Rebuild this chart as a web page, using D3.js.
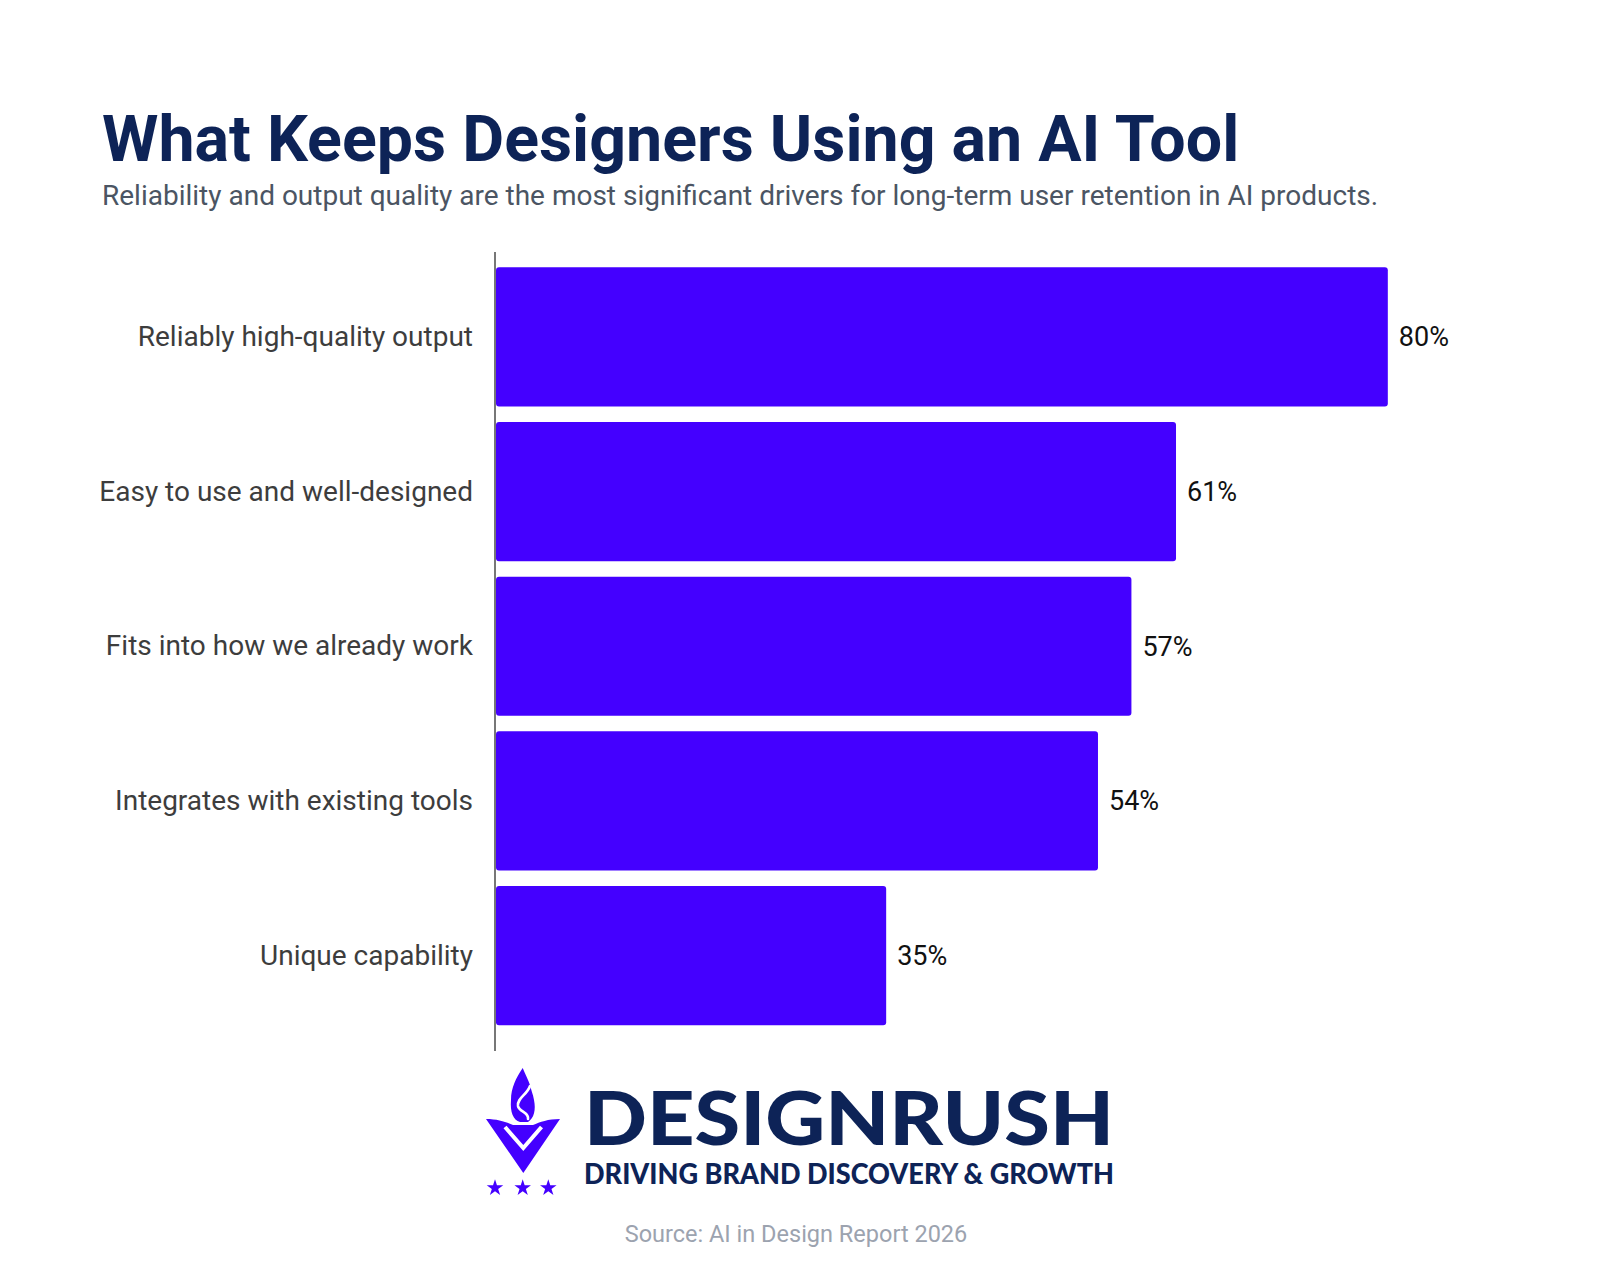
<!DOCTYPE html>
<html><head><meta charset="utf-8">
<script src="https://cdn.jsdelivr.net/npm/d3@7"></script>
<style>html,body{margin:0;padding:0;background:#fff;}svg{display:block;}</style>
</head><body>
<script>
const categories = ["Reliably high-quality output","Easy to use and well-designed","Fits into how we already work","Integrates with existing tools","Unique capability"];
const values = [80, 61, 57, 54, 35];
const valueLabels = ["80%","61%","57%","54%","35%"];
const title = "What Keeps Designers Using an AI Tool";
const subtitle = "Reliability and output quality are the most significant drivers for long-term user retention in AI products.";
const source = "Source: AI in Design Report 2026";

const W = 1600, H = 1284;
const svg = d3.select("body").append("svg").attr("width", W).attr("height", H);
svg.append("rect").attr("width", W).attr("height", H).attr("fill", "#fff");

const navy = "#0d2357", purple = "#4400ff";

svg.append("text").attr("x", 102).attr("y", 161)
  .attr("font-family", "Roboto").attr("font-weight", 700).attr("font-size", 64.5)
  .attr("fill", navy).text(title);
svg.append("text").attr("x", 102).attr("y", 205)
  .attr("font-family", "Roboto").attr("font-size", 28)
  .attr("fill", "#4b5563").text(subtitle);

const x = d3.scaleLinear().domain([0, 88]).range([496, 1477]);
const y = d3.scaleBand().domain(categories).range([259.5, 1033]).paddingInner(0.1).paddingOuter(0.05);

const g = svg.append("g");
g.selectAll("rect.bar").data(categories).join("rect").attr("class","bar")
  .attr("x", x(0)).attr("y", d => y(d))
  .attr("width", (d,i) => x(values[i]) - x(0)).attr("height", y.bandwidth())
  .attr("rx", 3).attr("fill", purple);

g.selectAll("text.val").data(categories).join("text").attr("class","val")
  .attr("x", (d,i) => x(values[i]) + 11).attr("y", d => y(d) + y.bandwidth()/2)
  .attr("dy", "0.35em").attr("font-family","Roboto").attr("font-size", 27)
  .attr("fill", "#111").text((d,i) => valueLabels[i]);

const axis = d3.axisLeft(y).tickSize(0).tickPadding(22);
const ax = svg.append("g").attr("transform", `translate(${x(0)-1},0)`).call(axis);
ax.select(".domain").remove();
ax.append("line").attr("x1", 0).attr("x2", 0).attr("y1", 252).attr("y2", 1051)
  .attr("stroke", "#777").attr("stroke-width", 2);
ax.selectAll(".tick text").attr("font-family","Roboto").attr("font-size", 28).attr("fill","#3d3d3d");

// Logo
const logo = svg.append("g");
// flame
logo.append("path").attr("fill", purple)
  .attr("d", "M522.7,1068 C516,1078 511,1088 511,1100 C510,1112 513,1120 520,1122 L528,1122 C534,1118 536,1110 534,1100 C533,1094 531,1090 530,1085 C528,1079 525,1074 522.7,1068 Z");
logo.append("path").attr("fill", "none").attr("stroke", "#fff").attr("stroke-width", 2.6).attr("stroke-linecap","round")
  .attr("d", "M530,1086 C527,1095 517,1098 518,1106 C519,1112 529,1112 528,1119");
// V chevron
logo.append("path").attr("fill", purple)
  .attr("d", "M486,1119 C498,1119 506,1122 513,1125 L533,1125 C540,1122 548,1119 560,1119 L523.3,1173 Z");
logo.append("path").attr("fill", "none").attr("stroke", "#fff").attr("stroke-width", 4)
  .attr("d", "M505,1127 L523.3,1148 L541.5,1127");
logo.append("path").attr("fill", purple)
  .attr("d", "M513,1126 L533.5,1126 L523.3,1139 Z");
// stars
const star = d3.symbol().type(d3.symbolStar).size(85);
[495, 522.7, 548.3].forEach(cx => logo.append("path").attr("d", star()).attr("fill", purple).attr("transform", `translate(${cx},1188)`));

logo.append("text").attr("x", 584).attr("y", 1145)
  .attr("font-family", "Lato").attr("font-weight", 900).attr("font-size", 74)
  .attr("textLength", 530).attr("lengthAdjust", "spacingAndGlyphs")
  .attr("fill", navy).text("DESIGNRUSH");
logo.append("text").attr("x", 584).attr("y", 1184)
  .attr("font-family", "Lato").attr("font-weight", 900).attr("font-size", 29)
  .attr("textLength", 530).attr("lengthAdjust", "spacingAndGlyphs")
  .attr("fill", navy).text("DRIVING BRAND DISCOVERY & GROWTH");

svg.append("text").attr("x", 796).attr("y", 1242).attr("text-anchor","middle")
  .attr("font-family","Roboto").attr("font-size", 23.5).attr("fill", "#9ca3af").text(source);
</script>
</body></html>
